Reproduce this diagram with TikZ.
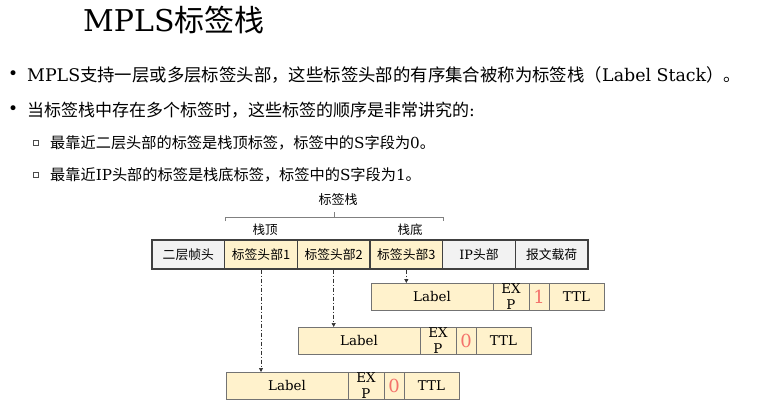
\documentclass[tikz,border=0pt]{standalone}
\usepackage{fontspec}
\setmainfont{DejaVu Serif}
\newfontfamily\cjk{Noto Sans CJK SC}
\usetikzlibrary{arrows.meta}
\definecolor{hdrgrey}{HTML}{F2F2F2}
\definecolor{lblyellow}{HTML}{FFF2CC}
\definecolor{sred}{HTML}{F4726B}
\definecolor{brk}{HTML}{808080}
\tikzset{
  hcell/.style={draw=black!75, line width=1.3pt, minimum width=72.67pt, minimum height=29pt, inner sep=0pt, font=\cjk\fontsize{12.8}{14}\selectfont},
  hgrey/.style={hcell, fill=hdrgrey},
  hyel/.style={hcell, fill=lblyellow},
  rcell/.style={draw=black!55, line width=0.9pt, fill=lblyellow, minimum height=27pt, inner sep=0pt, outer sep=0pt, anchor=west, font=\fontsize{13.4}{16}\selectfont},
  ptr/.style={draw=black!80, line width=0.7pt, dash pattern=on 4pt off 2pt on 1pt off 2pt, -{Triangle[length=4pt,width=4pt]}},
  bodytxt/.style={anchor=west, inner sep=0pt, font=\fontsize{17}{20}\selectfont},
  subtxt/.style={anchor=west, inner sep=0pt, font=\fontsize{15.2}{18}\selectfont},
  smalllbl/.style={inner sep=0pt, font=\cjk\fontsize{12.5}{14}\selectfont}
}
\newcommand\mplsrow[4]{%
  \node[rcell, minimum width=122pt] (#1l) at (#2,#3) {Label};
  \node[rcell, minimum width=36pt, align=center] (#1e) at (#1l.east) {EX\\P};
  \node[rcell, minimum width=20pt, text=sred, font=\fontsize{18}{20}\selectfont] (#1s) at (#1e.east) {#4};
  \node[rcell, minimum width=55pt] (#1t) at (#1s.east) {TTL};
}
\begin{document}
\begin{tikzpicture}[x=1pt, y=-1pt]
\useasboundingbox (0,0) rectangle (758,404);
% title
\node[anchor=west, inner sep=0pt, font=\fontsize{30}{34}\selectfont] (title) at (83,20) {MPLS{\cjk 标签栈}};
% bullets
\node[anchor=west, inner sep=0pt, font=\fontsize{17}{20}\selectfont] (b1) at (8,75) {•};
\node[bodytxt, font=\fontsize{17.4}{20}\selectfont] (t1) at (27,75) {MPLS{\cjk 支持一层或多层标签头部，这些标签头部的有序集合被称为标签栈（}Label Stack{\cjk ）。}};
\node[anchor=west, inner sep=0pt, font=\fontsize{17}{20}\selectfont] (b2) at (8,110) {•};
\node[bodytxt] (t2) at (27,110) {{\cjk 当标签栈中存在多个标签时，这些标签的顺序是非常讲究的}:};
\draw[black!70, line width=0.6pt] (33.5,140.5) rectangle (38.5,145.5);
\node[subtxt] (t3) at (50,143) {{\cjk 最靠近二层头部的标签是栈顶标签，标签中的}S{\cjk 字段为}0{\cjk 。}};
\draw[black!70, line width=0.6pt] (33.5,172.5) rectangle (38.5,177.5);
\node[subtxt] (t4) at (50,175) {{\cjk 最靠近}IP{\cjk 头部的标签是栈底标签，标签中的}S{\cjk 字段为}1{\cjk 。}};
% header row
\node[hgrey] (h1) at (188.33,254.5) {二层帧头};
\node[hyel]  (h2) at (261,254.5) {标签头部1};
\node[hyel]  (h3) at (333.67,254.5) {标签头部2};
\node[hyel]  (h4) at (406.33,254.5) {标签头部3};
\node[hgrey, font=\fontsize{12.8}{14}\selectfont] (h5) at (479,254.5) {IP{\cjk 头部}};
\node[hgrey] (h6) at (551.67,254.5) {报文载荷};
% bracket
\coordinate (bl) at (225,221);
\coordinate (br) at (443,221);
\coordinate (bm) at (334,217);
\coordinate (bt) at (334,212);
\draw[brk, line width=0.8pt] (bl) -- (225,217) -- (443,217) -- (br);
\draw[brk, line width=0.8pt] (bm) -- (bt);
\node[smalllbl, font=\cjk\fontsize{13}{15}\selectfont] (stk) at (338,200) {标签栈};
\node[smalllbl] (top) at (265,230) {栈顶};
\node[smalllbl] (bot) at (410,230) {栈底};
% label rows
\mplsrow{ra}{371}{296.5}{1}
\mplsrow{rb}{298}{340.5}{0}
\mplsrow{rc}{226}{385.5}{0}
% pointers
\draw[ptr] (h2.south) -- (h2.south |- rcl.north);
\draw[ptr] (h3.south) -- (h3.south |- rbl.north);
\draw[ptr] (h4.south) -- (h4.south |- ral.north);
\end{tikzpicture}
\end{document}
